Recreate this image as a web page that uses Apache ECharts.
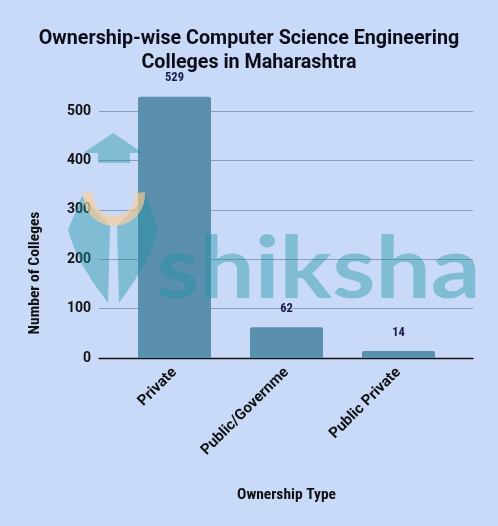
<!DOCTYPE html>
<html>
<head>
<meta charset="utf-8">
<script src="https://cdn.jsdelivr.net/npm/echarts@6/dist/echarts.min.js"></script>
<style>
html,body{margin:0;padding:0;background:#c9daf8;}
#c{width:498px;height:526px;}
</style>
</head>
<body>
<div id="c"></div>
<script>
const categories = ["Private", "Public/Governme", "Public Private"];
const colleges = [529, 62, 14];
const yTicks = [0, 100, 200, 300, 400, 500];

const chart = echarts.init(document.getElementById('c'));
const wmColor = 'rgb(25,145,161)';
const wmOpacity = 0.41;
const narrow = '"Liberation Sans Narrow", "Roboto Condensed", Roboto, sans-serif';

chart.setOption({
  backgroundColor: '#c9daf8',
  animation: false,
  title: {
    text: 'Ownership-wise Computer Science Engineering\nColleges in Maharashtra',
    left: 'center',
    top: 22,
    textStyle: {
      fontFamily: 'Roboto, sans-serif',
      fontWeight: 'bold',
      fontSize: 19.7,
      lineHeight: 24,
      color: '#0d0d1a'
    }
  },
  grid: [
    { left: 99, right: 25, top: 111, bottom: 168 },
    { left: 118.5, right: 43.5, top: 111, bottom: 168 }
  ],
  xAxis: [
    {
      gridIndex: 0, type: 'value', min: 0, max: 1,
      axisLine: { show: true, lineStyle: { color: '#111', width: 1.3 } },
      axisTick: { show: false }, axisLabel: { show: false }, splitLine: { show: false }
    },
    {
      gridIndex: 1, type: 'category', data: categories,
      axisLine: { show: false }, axisTick: { show: false },
      axisLabel: {
        rotate: 45, margin: 12, interval: 0,
        fontFamily: 'Roboto, sans-serif', fontWeight: 'bold', fontSize: 15, color: '#111',
        padding: [0, 0, 6, 0]
      },
      name: 'Ownership Type', nameLocation: 'middle', nameGap: 129,
      nameTextStyle: { fontFamily: narrow, fontWeight: 'bold', fontSize: 15.5, color: '#111' }
    }
  ],
  yAxis: [
    {
      gridIndex: 0, type: 'value', min: yTicks[0], max: yTicks[yTicks.length - 1], interval: 100,
      axisLine: { show: false }, axisTick: { show: false },
      axisLabel: { margin: 8, fontFamily: 'Roboto, sans-serif', fontWeight: 'bold', fontSize: 14, color: '#111' },
      splitLine: { show: true, lineStyle: { color: '#8d9cba', width: 1 } }
    },
    {
      gridIndex: 1, type: 'value', min: yTicks[0], max: yTicks[yTicks.length - 1], interval: 100,
      show: false, splitLine: { show: false }
    }
  ],
  series: [{
    type: 'bar',
    xAxisIndex: 1, yAxisIndex: 1,
    data: colleges,
    barWidth: 73,
    clip: false,
    z: 2,
    itemStyle: { color: '#5a8fad', borderRadius: [2, 2, 0, 0] },
    label: {
      show: true, position: 'top', distance: 12,
      fontFamily: narrow, fontWeight: 'bold', fontSize: 12.5, color: '#1b1b4d'
    }
  }],
  graphic: [
    {
      type: 'text', x: 35, y: 273, rotation: Math.PI / 2,
      style: {
        text: 'Number of Colleges', x: 0, y: 0, align: 'center', verticalAlign: 'middle',
        font: 'bold 15.5px ' + narrow, fill: '#111'
      }
    },
    { type: 'polygon', z: 100, silent: true, shape: { points: [[83,153],[113,133],[143,153]] }, style: { fill: wmColor, opacity: wmOpacity } },
    { type: 'rect', z: 100, silent: true, shape: { x: 98, y: 153, width: 32, height: 10 }, style: { fill: wmColor, opacity: wmOpacity } },
    { type: 'polygon', z: 100, silent: true, shape: { points: [[82,196],[68,230],[73.5,246.6],[82,264.3],[93.5,283],[108,303],[110,226]] }, style: { fill: wmColor, opacity: wmOpacity } },
    { type: 'polygon', z: 100, silent: true, shape: { points: [[146,196],[158,230],[152.6,246.6],[144.3,264.3],[133.1,283],[119,303],[117,226]] }, style: { fill: wmColor, opacity: wmOpacity } },
    { type: 'sector', z: 101, silent: true, shape: { cx: 114, cy: 195, r: 31, r0: 21, startAngle: -0.1, endAngle: Math.PI + 0.1, clockwise: true }, style: { fill: 'rgb(255,205,150)', opacity: 0.65 } },
    { type: 'text', z: 100, silent: true, x: 156, y: 226, scaleX: 1.13, style: { text: 'shiksha', x: 0, y: 0, verticalAlign: 'top', font: 'bold 87px Lato, "Open Sans", sans-serif', fill: wmColor, opacity: wmOpacity } }
  ]
});
</script>
</body>
</html>
